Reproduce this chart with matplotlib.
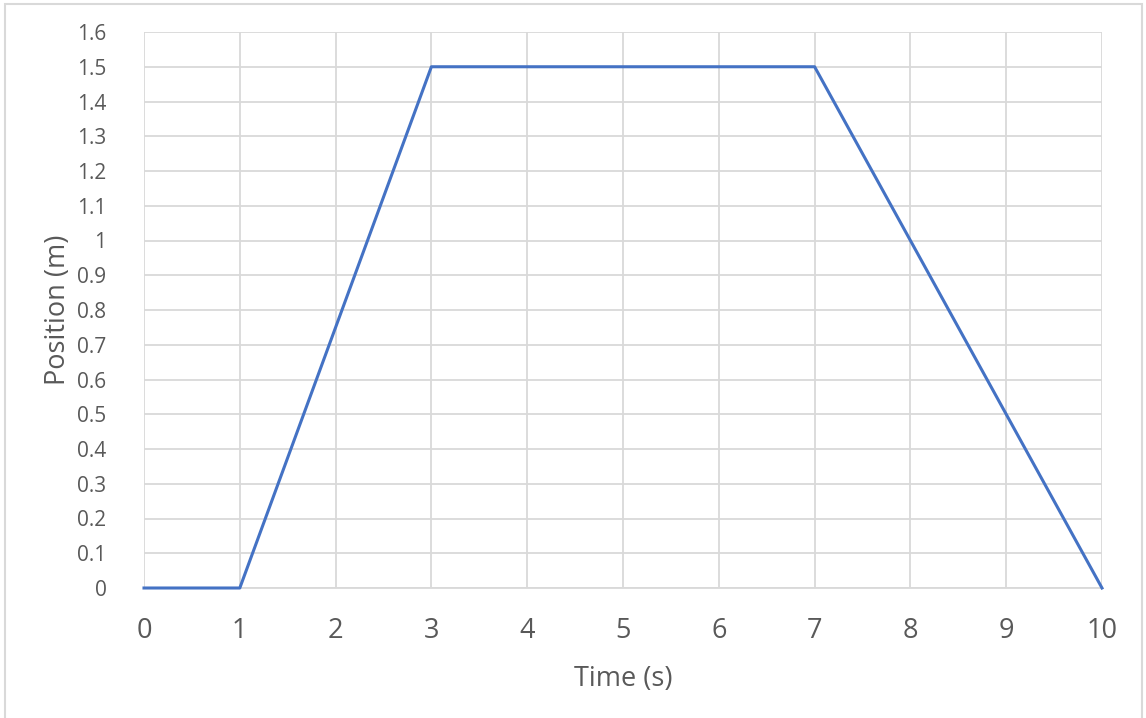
import matplotlib
matplotlib.use("Agg")
import matplotlib.pyplot as plt
from matplotlib.patches import Rectangle

time_s = [0, 1, 3, 7, 8, 9, 10]
position_m = [0, 0, 1.5, 1.5, 1.0, 0.5, 0]

x_ticks = list(range(0, 11))
y_ticks = [round(0.1 * i, 1) for i in range(0, 17)]
y_labels = [f"{v:g}" for v in y_ticks]

plt.rcParams["font.family"] = ["Open Sans", "DejaVu Sans"]
grey_text = "#595959"
grid_col = "#D9D9D9"

fig = plt.figure(figsize=(11.46, 7.18), dpi=100)
fig.patches.append(Rectangle((5 / 1146, -0.01), 1137 / 1146, 1.0 - 4 / 718 + 0.01,
                             transform=fig.transFigure, fill=False,
                             edgecolor="#D9D9D9", linewidth=1.5))

ax = fig.add_axes([144 / 1146, 1 - 588 / 718, (1102 - 144) / 1146, (588 - 32) / 718])
ax.plot(time_s, position_m, color="#4472C4", linewidth=2.2, zorder=3, clip_on=False)

ax.set_xlim(0, 10)
ax.set_ylim(0, 1.6)
ax.set_xticks(x_ticks)
ax.set_yticks(y_ticks)
ax.set_yticklabels(y_labels)
ax.grid(True, color=grid_col, linewidth=1.3)
for side in ["top", "right", "left"]:
    ax.spines[side].set_visible(False)
ax.spines["bottom"].set_color(grid_col)
ax.spines["bottom"].set_linewidth(1.3)
ax.tick_params(axis="both", length=0, labelcolor=grey_text)
ax.tick_params(axis="x", pad=21, labelsize=19.5)
ax.tick_params(axis="y", pad=27, labelsize=15)

ax.set_xlabel("Time (s)", fontsize=19.5, color=grey_text, labelpad=14)
ax.set_ylabel("Position (m)", fontsize=19.5, color=grey_text, labelpad=4)

fig.savefig("out.png", dpi=100)
